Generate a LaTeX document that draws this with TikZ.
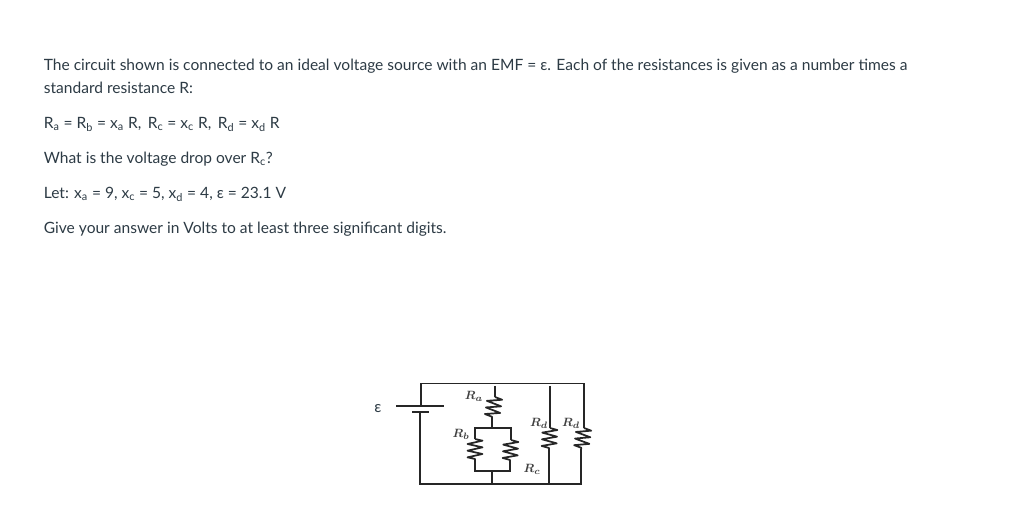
\documentclass[tikz,border=0pt]{standalone}
\usepackage{fontspec}
\usepackage{xcolor}
\setmainfont{Lato}
\usetikzlibrary{decorations.pathmorphing}
\definecolor{txtgray}{HTML}{2D3B45}
\newcommand{\sub}[1]{\textsubscript{#1}}
\tikzset{
	txt/.style={anchor=base west,inner sep=0,text=txtgray,font=\fontsize{11.67}{13}\selectfont},
	wire/.style={line width=1.3pt,black!85},
	resistor/.style={wire,line join=round,decorate,decoration={zigzag,segment length=5pt,amplitude=5.6pt}},
	rlabel/.style={inner sep=0,text=black!75,font=\fontsize{9.5}{11}\selectfont\boldmath}
}

\begin{document}
\begin{tikzpicture}[x=0.75pt,y=-0.75pt]
	\useasboundingbox (0,0) rectangle (1024,523);
	\fill[white] (0,0) rectangle (1024,523);
	% question text
	\node[txt] (line1) at (43.6,70.5) {The circuit shown is connected to an ideal voltage source with an EMF = ε. Each of the resistances is given as a number times a};
	\node[txt] (line2) at (43.6,93.5) {standard resistance R:};
	\node[txt] (line3) at (43.6,128.5) {R\sub{a} = R\sub{b} = x\sub{a} R,\, R\sub{c} = x\sub{c} R,\, R\sub{d} = x\sub{d} R};
	\node[txt] (line4) at (43.6,163.5) {What is the voltage drop over R\sub{c}?};
	\node[txt] (line5) at (43.6,198.5) {Let: x\sub{a} = 9, x\sub{c} = 5, x\sub{d} = 4, ε = 23.1 V};
	\node[txt] (line6) at (43.6,233.5) {Give your answer in Volts to at least three significant digits.};
	% corners and junctions
	\coordinate (tl) at (421,383.5);
	\coordinate (tr) at (584,383.5);
	\coordinate (bl) at (420,484);
	\coordinate (br) at (581,484);
	\coordinate (platea) at (421,406);
	\coordinate (plateb) at (420,412);
	\coordinate (atop) at (495,386);
	\coordinate (ain) at (495,397);
	\coordinate (aout) at (492,417);
	\coordinate (boxtop) at (492,428);
	\coordinate (boxbot) at (492,471);
	\coordinate (boxtl) at (475,428);
	\coordinate (boxtr) at (511,428);
	\coordinate (boxbl) at (475,471);
	\coordinate (boxbr) at (510,471);
	\coordinate (bin) at (475,439);
	\coordinate (bout) at (475,460);
	\coordinate (cin) at (511,440);
	\coordinate (cout) at (510,460);
	\coordinate (botmid) at (492,484);
	\coordinate (datop) at (550,386);
	\coordinate (dain) at (550,428);
	\coordinate (daout) at (549,448);
	\coordinate (dabot) at (549,484);
	\coordinate (dbin) at (584,428);
	\coordinate (dbout) at (581,450);
	% outer loop and battery
	\draw[wire] (platea) -- (tl) -- (tr) -- (dbin);
	\draw[wire] (plateb) -- (bl) -- (br) -- (dbout);
	\draw[wire] (396,406) -- (444,406);
	\draw[wire] (412,412) -- (429,412);
	% resistor network
	\draw[wire] (atop) -- (ain);
	\draw[resistor] (ain) -- (aout);
	\draw[wire] (aout) -- (boxtop);
	\draw[wire] (bin) -- (boxtl) -- (boxtr) -- (cin);
	\draw[wire] (bout) -- (boxbl) -- (boxbr) -- (cout);
	\draw[resistor] (bin) -- (bout);
	\draw[resistor] (cin) -- (cout);
	\draw[wire] (boxbot) -- (botmid);
	\draw[wire] (datop) -- (dain);
	\draw[resistor] (dain) -- (daout);
	\draw[wire] (daout) -- (dabot);
	\draw[resistor] (dbin) -- (dbout);
	% labels
	\node[txt] (emf) at (374,413) {ε};
	\node[rlabel] (ra) at (474,396.5) {$R_a$};
	\node[rlabel] (rb) at (461,434.5) {$R_b$};
	\node[rlabel] (rc) at (532,469.5) {$R_c$};
	\node[rlabel] (rd1) at (539,423) {$R_d$};
	\node[rlabel] (rd2) at (571,423) {$R_d$};
\end{tikzpicture}
\end{document}
